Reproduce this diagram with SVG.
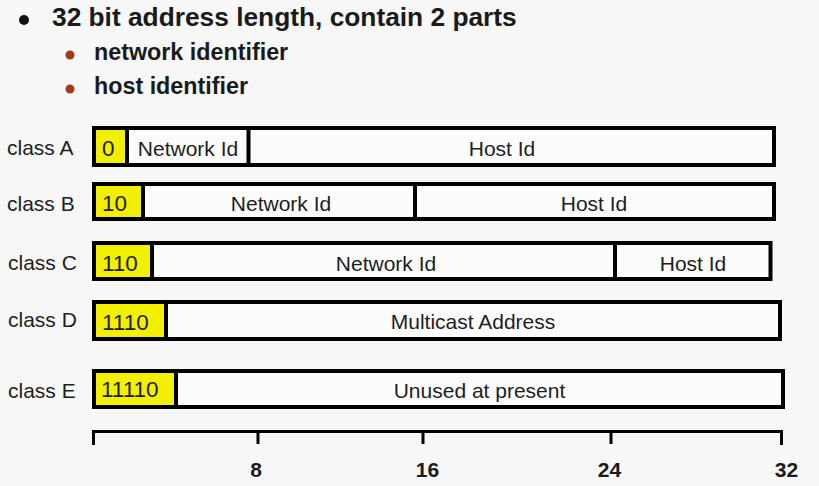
<svg xmlns="http://www.w3.org/2000/svg" width="819" height="486" viewBox="0 0 819 486">
<style>
.bg{fill:#f7f7f7}
.box{fill:#fcfcfc;stroke:#000;stroke-width:4}
.yel{fill:#f2f000}
.div{stroke:#000;stroke-width:4}
.t{font-family:"Liberation Sans",Arial,sans-serif;font-size:21px;fill:#1e1e1e}
.d{font-size:22.5px}
.c{text-anchor:middle}
.h{font-family:"Liberation Sans",Arial,sans-serif;font-weight:bold;fill:#1a1a1a}
.ax{stroke:#000;stroke-width:3;fill:none}
</style>
<rect class="bg" x="0" y="0" width="819" height="486"/>
<g id="bullets">
<circle cx="24" cy="20" r="5" fill="#111"/>
<text class="h" x="52" y="26" font-size="26.3">32 bit address length, contain 2 parts</text>
<circle cx="70" cy="55" r="4.5" fill="#a03c14"/>
<text class="h" x="94" y="60" font-size="23.3">network identifier</text>
<circle cx="70" cy="89" r="4.5" fill="#a03c14"/>
<text class="h" x="94" y="94" font-size="23.3">host identifier</text>
</g>
<g id="classA">
<text class="t" x="7" y="155">class A</text>
<rect class="box" x="94" y="128" width="680" height="37"/>
<rect class="yel" x="96" y="130" width="31" height="33"/>
<line class="div" x1="127" y1="128" x2="127" y2="165"/>
<line class="div" x1="248.5" y1="128" x2="248.5" y2="165"/>
<text class="t d" x="102" y="156">0</text>
<text class="t c" x="188" y="156">Network Id</text>
<text class="t c" x="502" y="156">Host Id</text>
</g>
<g id="classB">
<text class="t" x="7" y="211">class B</text>
<rect class="box" x="94" y="184" width="680" height="35"/>
<rect class="yel" x="96" y="186" width="47" height="31"/>
<line class="div" x1="143" y1="184" x2="143" y2="219"/>
<line class="div" x1="415" y1="184" x2="415" y2="219"/>
<text class="t d" x="102" y="211">10</text>
<text class="t c" x="281" y="211">Network Id</text>
<text class="t c" x="594" y="211">Host Id</text>
</g>
<g id="classC">
<text class="t" x="8" y="270">class C</text>
<rect class="box" x="94" y="243" width="676.5" height="36"/>
<rect class="yel" x="96" y="245" width="56" height="32"/>
<line class="div" x1="152" y1="243" x2="152" y2="279"/>
<line class="div" x1="615" y1="243" x2="615" y2="279"/>
<text class="t d" x="102" y="271">110</text>
<text class="t c" x="386" y="271">Network Id</text>
<text class="t c" x="693" y="271">Host Id</text>
</g>
<g id="classD">
<text class="t" x="8" y="327">class D</text>
<rect class="box" x="94" y="302" width="686" height="37"/>
<rect class="yel" x="96" y="304" width="70" height="33"/>
<line class="div" x1="166" y1="302" x2="166" y2="339"/>
<text class="t d" x="102" y="330">1110</text>
<text class="t c" x="473" y="329">Multicast Address</text>
</g>
<g id="classE">
<text class="t" x="8" y="398">class E</text>
<rect class="box" x="94" y="371" width="689" height="36"/>
<rect class="yel" x="96" y="373" width="80" height="32"/>
<line class="div" x1="176" y1="371" x2="176" y2="407"/>
<text class="t d" x="101" y="397">11110</text>
<text class="t c" x="479.5" y="398">Unused at present</text>
</g>
<g id="axis">
<path class="ax" d="M93.5,445 V431.5 H781.5 V445"/>
<line class="ax" x1="258" y1="431.5" x2="258" y2="444"/>
<line class="ax" x1="423" y1="431.5" x2="423" y2="444"/>
<line class="ax" x1="611" y1="431.5" x2="611" y2="444"/>
<text class="h c" x="256" y="477" font-size="21">8</text>
<text class="h c" x="427.5" y="477" font-size="21">16</text>
<text class="h c" x="609.5" y="477" font-size="21">24</text>
<text class="h c" x="786.5" y="477" font-size="21">32</text>
</g>
</svg>
